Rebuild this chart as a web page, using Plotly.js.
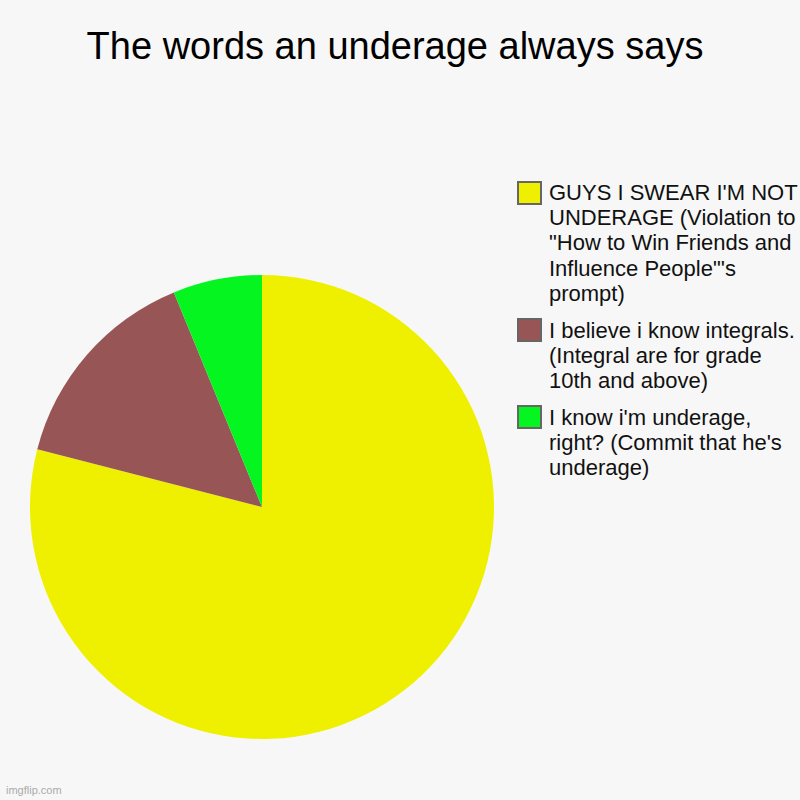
<!DOCTYPE html>
<html>
<head>
<meta charset="utf-8">
<script src="https://cdn.plot.ly/plotly-3.0.1.min.js"></script>
<style>
  html, body { margin: 0; padding: 0; background: #f7f7f7; }
  #chart { width: 800px; height: 800px; }
</style>
</head>
<body>
<div id="chart"></div>
<script>
// slice labels (line breaks as in the legend)
var labels = [
  'GUYS I SWEAR I\'M NOT<br>UNDERAGE (Violation to<br>"How to Win Friends and<br>Influence People"\'s<br>prompt)',
  'I believe i know integrals.<br>(Integral are for grade<br>10th and above)',
  'I know i\'m underage,<br>right? (Commit that he\'s<br>underage)'
]
var values = [79, 14.8, 6.2]
var colors = ['#eef000', '#985555', '#05f521']

var font = 'Liberation Sans, Arial, sans-serif'
var W = 800, H = 800

// legend drawn by hand so the line spacing and big swatches match
var shapes = []
var annotations = []
var lineY = 193   // centre of first legend line, px from top
labels.forEach(function (lab, i) {
  var lines = lab.split('<br>')
  shapes.push({
    type: 'rect', xref: 'paper', yref: 'paper',
    x0: 518 / W, x1: 541 / W,
    y0: 1 - (lineY - 11) / H, y1: 1 - (lineY + 11) / H,
    fillcolor: colors[i],
    line: { color: '#666', width: 2 }
  })
  lines.forEach(function (t) {
    annotations.push({
      text: t, xref: 'paper', yref: 'paper',
      x: 548 / W, y: 1 - lineY / H,
      xanchor: 'left', yanchor: 'middle',
      showarrow: false, borderpad: 0,
      font: { family: font, size: 22, color: '#111' }
    })
    lineY += 25
  })
  lineY += 12
})

annotations.push({
  text: 'imgflip.com',
  xref: 'paper', yref: 'paper',
  x: 4 / W, y: 10 / H,
  xanchor: 'left', yanchor: 'middle',
  showarrow: false,
  font: { family: font, size: 11, color: '#aaa' }
})

Plotly.newPlot(document.getElementById('chart'), [
  {
    type: 'pie',
    labels: labels,
    values: values,
    sort: false,
    direction: 'clockwise',
    rotation: 0,
    textinfo: 'none',
    hoverinfo: 'label+percent',
    showlegend: false,
    marker: { colors: colors, line: { width: 0 } },
    domain: { x: [30 / W, 494 / W], y: [1 - 739 / H, 1 - 275 / H] }
  }
], {
  width: W,
  height: H,
  margin: { l: 0, r: 0, t: 0, b: 0 },
  paper_bgcolor: '#f7f7f7',
  plot_bgcolor: '#f7f7f7',
  title: {
    text: 'The words an underage always says',
    font: { family: font, size: 38, color: '#000' },
    x: 395 / W,
    xanchor: 'center',
    y: 1 - 46 / H,
    yanchor: 'middle'
  },
  showlegend: false,
  shapes: shapes,
  annotations: annotations
}, { staticPlot: true })
</script>
</body>
</html>
